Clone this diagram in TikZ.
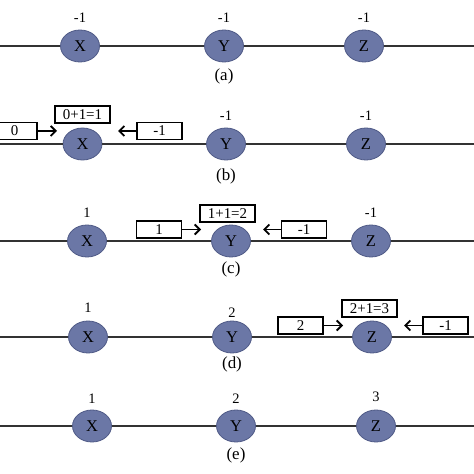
\documentclass[tikz,border=0pt]{standalone}
\usepackage{fontspec}
\setmainfont{Liberation Serif}
\usetikzlibrary{shapes.geometric,arrows.meta}
\definecolor{nodefill}{HTML}{6B77A6}
\definecolor{nodeedge}{HTML}{4F5A86}
\definecolor{linecol}{HTML}{333333}
\begin{document}
\begin{tikzpicture}[x=1bp,y=-1bp,
  var/.style={ellipse,draw=nodeedge,fill=nodefill,line width=0.8bp,minimum width=39bp,minimum height=32bp,inner sep=0pt,font=\fontsize{16.5}{16.5}\selectfont},
  val/.style={font=\fontsize{14.5}{14.5}\selectfont,inner sep=0pt},
  rowcaption/.style={font=\fontsize{17}{17}\selectfont,inner sep=0pt},
  msg/.style={draw=black,line width=1.1bp,minimum width=45bp,minimum height=17bp,inner sep=0pt,font=\fontsize{15}{15}\selectfont},
  sumbox/.style={draw=black,line width=1.1bp,minimum width=55bp,minimum height=17bp,inner sep=0pt,font=\fontsize{15}{15}\selectfont},
  wire/.style={draw=linecol,line width=1.3bp},
  send/.style={line width=1.8bp,-{Straight Barb[length=5bp,width=10bp]}}]
\useasboundingbox (0,0) rectangle (474,474);

% ---- row (a)
\coordinate (aL) at (0,46); \coordinate (aR) at (474,46);
\node[var] (aX) at (80,46) {X};
\node[var] (aY) at (224,46) {Y};
\node[var] (aZ) at (364,46) {Z};
\draw[wire] (aL) -- (aX) -- (aY) -- (aZ) -- (aR);
\node[val] (aXv) at (80,18) {-1};
\node[val] (aYv) at (224,18) {-1};
\node[val] (aZv) at (364,18) {-1};
\node[rowcaption] (acap) at (224,76) {(a)};

% ---- row (b)
\coordinate (bL) at (0,144); \coordinate (bR) at (474,144);
\node[var] (bX) at (82.5,144) {X};
\node[var] (bY) at (226,144) {Y};
\node[var] (bZ) at (366,144) {Z};
\draw[wire] (bL) -- (bX) -- (bY) -- (bZ) -- (bR);
\node[sumbox] (bXs) at (82.5,114.5) {0+1=1};
\node[val] (bYv) at (226,116) {-1};
\node[val] (bZv) at (366,116) {-1};
\node[msg] (bm1) at (14.5,131) {0};
\node[msg] (bm2) at (159.5,131) {-1};
\coordinate (bt1) at (57,131);
\coordinate (bt2) at (118,131);
\draw[send] (bm1.east) -- (bt1);
\draw[send] (bm2.west) -- (bt2);
\node[rowcaption] (bcap) at (226,176) {(b)};

% ---- row (c)
\coordinate (cL) at (0,241); \coordinate (cR) at (474,241);
\node[var] (cX) at (87,241) {X};
\node[var] (cY) at (231,241) {Y};
\node[var] (cZ) at (371,241) {Z};
\draw[wire] (cL) -- (cX) -- (cY) -- (cZ) -- (cR);
\node[val] (cXv) at (87,213) {1};
\node[sumbox] (cYs) at (227.5,213.5) {1+1=2};
\node[val] (cZv) at (371,213) {-1};
\node[msg] (cm1) at (159,229.5) {1};
\node[msg] (cm2) at (304,229.5) {-1};
\coordinate (ct1) at (201,229.5);
\coordinate (ct2) at (263,229.5);
\draw[send] (cm1.east) -- (ct1);
\draw[send] (cm2.west) -- (ct2);
\node[rowcaption] (ccap) at (231,269) {(c)};

% ---- row (d)
\coordinate (dL) at (0,337); \coordinate (dR) at (474,337);
\node[var] (dX) at (88,337) {X};
\node[var] (dY) at (232,337) {Y};
\node[var] (dZ) at (372,337) {Z};
\draw[wire] (dL) -- (dX) -- (dY) -- (dZ) -- (dR);
\node[val] (dXv) at (88,308) {1};
\node[val] (dYv) at (232,313) {2};
\node[sumbox] (dZs) at (369.5,308.5) {2+1=3};
\node[msg] (dm1) at (300.5,325.5) {2};
\node[msg] (dm2) at (445.5,325.5) {-1};
\coordinate (dt1) at (343,325.5);
\coordinate (dt2) at (404,325.5);
\draw[send] (dm1.east) -- (dt1);
\draw[send] (dm2.west) -- (dt2);
\node[rowcaption] (dcap) at (232,364) {(d)};

% ---- row (e)
\coordinate (eL) at (0,426); \coordinate (eR) at (474,426);
\node[var] (eX) at (92,426) {X};
\node[var] (eY) at (236,426) {Y};
\node[var] (eZ) at (376,426) {Z};
\draw[wire] (eL) -- (eX) -- (eY) -- (eZ) -- (eR);
\node[val] (eXv) at (92,399) {1};
\node[val] (eYv) at (236,399) {2};
\node[val] (eZv) at (376,397) {3};
\node[rowcaption] (ecap) at (236,455) {(e)};
\end{tikzpicture}
\end{document}
